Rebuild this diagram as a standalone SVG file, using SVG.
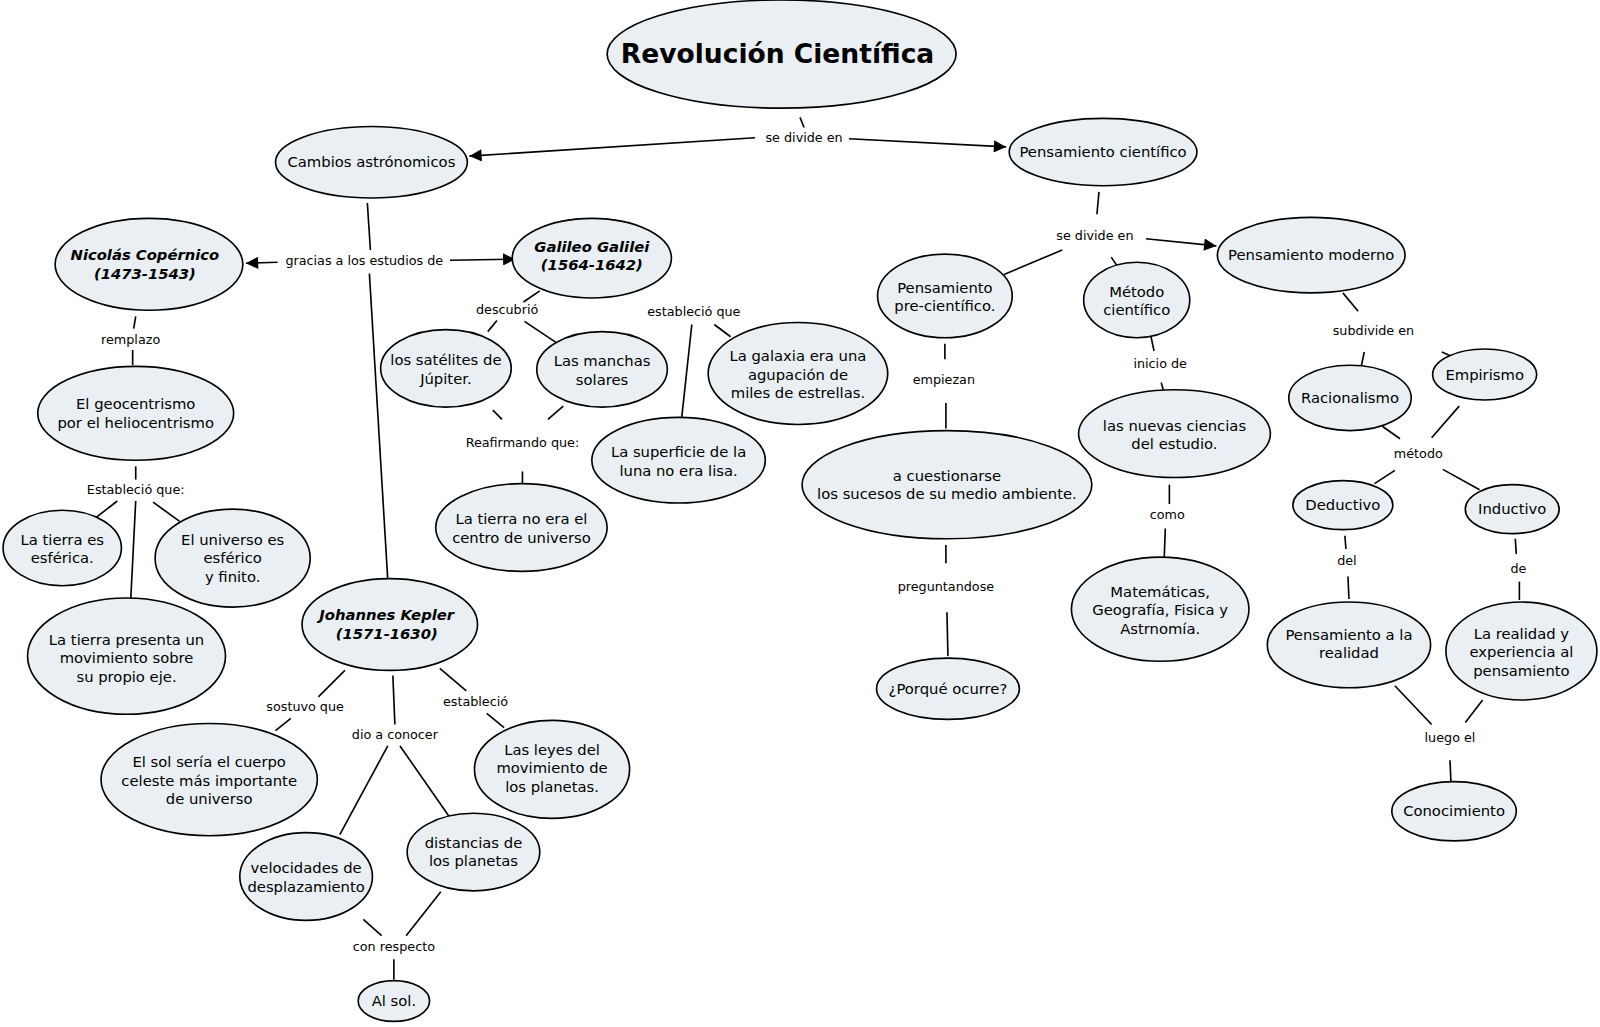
<svg xmlns="http://www.w3.org/2000/svg" width="1600" height="1027" viewBox="0 0 1600 1027">
<style>
.n ellipse{fill:#e9eff2;stroke:#000;stroke-width:1.6}
.n text{font-family:"DejaVu Sans",Verdana,sans-serif;font-size:14.5px;text-anchor:middle;fill:#000}
.n text.b{font-weight:bold;font-style:italic}
.l{font-family:"DejaVu Sans",Verdana,sans-serif;font-size:12.5px;text-anchor:middle;fill:#000}
#c line{stroke:#000;stroke-width:1.6}
</style>
<defs><marker id="a" viewBox="0 0 10 10" refX="10" refY="5" markerWidth="10" markerHeight="9" markerUnits="userSpaceOnUse" orient="auto"><path d="M0,0L10,5L0,10z"/></marker>
<marker id="ah" viewBox="0 0 10 10" refX="10" refY="5" markerWidth="16" markerHeight="12" markerUnits="userSpaceOnUse" orient="auto"><path d="M0,0L10,5L0,10z"/></marker></defs>
<rect width="1600" height="1027" fill="#fff"/>
<g transform="scale(1.0204)">
<g id="c">
<line x1="784" y1="115" x2="788" y2="125"/>
<line x1="740" y1="135" x2="460" y2="153" marker-end="url(#ah)"/>
<line x1="832" y1="136" x2="986" y2="144" marker-end="url(#ah)"/>
<line x1="272" y1="257" x2="241" y2="258" marker-end="url(#ah)"/>
<line x1="441" y1="255" x2="505" y2="254" marker-end="url(#ah)"/>
<line x1="360" y1="199" x2="363" y2="245"/>
<line x1="362" y1="268" x2="380" y2="568"/>
<line x1="133" y1="310" x2="131" y2="322"/>
<line x1="130" y1="343" x2="130" y2="358"/>
<line x1="133" y1="457" x2="133" y2="470"/>
<line x1="133" y1="491" x2="128" y2="590"/>
<line x1="115" y1="491" x2="93" y2="508"/>
<line x1="150" y1="492" x2="176" y2="511"/>
<line x1="529" y1="285" x2="513" y2="296"/>
<line x1="487" y1="314" x2="478" y2="325"/>
<line x1="514" y1="315" x2="547" y2="337"/>
<line x1="700" y1="318" x2="716" y2="330"/>
<line x1="678" y1="318" x2="668" y2="410"/>
<line x1="483" y1="402" x2="492" y2="411"/>
<line x1="552" y1="398" x2="537" y2="411"/>
<line x1="512" y1="462" x2="512" y2="474"/>
<line x1="338" y1="657" x2="312" y2="683"/>
<line x1="285" y1="704" x2="270" y2="716"/>
<line x1="385" y1="662" x2="387" y2="710"/>
<line x1="380" y1="731" x2="333" y2="818"/>
<line x1="392" y1="731" x2="440" y2="800"/>
<line x1="431" y1="655" x2="457" y2="677"/>
<line x1="477" y1="699" x2="494" y2="713"/>
<line x1="356" y1="901" x2="374" y2="917"/>
<line x1="432" y1="874" x2="398" y2="917"/>
<line x1="386" y1="940" x2="386" y2="960"/>
<line x1="1077" y1="188" x2="1075" y2="210"/>
<line x1="1041" y1="245" x2="984" y2="269"/>
<line x1="1089" y1="252" x2="1097" y2="264"/>
<line x1="1123" y1="234" x2="1192" y2="241" marker-end="url(#ah)"/>
<line x1="926" y1="337" x2="926" y2="352"/>
<line x1="927" y1="395" x2="927" y2="420"/>
<line x1="1128" y1="330" x2="1131" y2="344"/>
<line x1="1138" y1="375" x2="1140" y2="382"/>
<line x1="1146" y1="475" x2="1146" y2="494"/>
<line x1="1142" y1="518" x2="1141" y2="546"/>
<line x1="927" y1="534" x2="927" y2="552"/>
<line x1="928" y1="600" x2="929" y2="643"/>
<line x1="1316" y1="287" x2="1331" y2="305"/>
<line x1="1337" y1="345" x2="1333" y2="364"/>
<line x1="1413" y1="345" x2="1440" y2="357"/>
<line x1="1355" y1="418" x2="1372" y2="430"/>
<line x1="1430" y1="398" x2="1403" y2="429"/>
<line x1="1367" y1="461" x2="1347" y2="474"/>
<line x1="1414" y1="460" x2="1450" y2="480"/>
<line x1="1318" y1="525" x2="1319" y2="538"/>
<line x1="1321" y1="565" x2="1322" y2="587"/>
<line x1="1485" y1="528" x2="1486" y2="543"/>
<line x1="1489" y1="570" x2="1489" y2="588"/>
<line x1="1367" y1="672" x2="1403" y2="710"/>
<line x1="1453" y1="686" x2="1436" y2="708"/>
<line x1="1421" y1="745" x2="1422" y2="768"/>
<text class="l" x="788" y="139">se divide en</text>
<text class="l" x="357" y="260">gracias a los estudios de</text>
<text class="l" x="128" y="337">remplazo</text>
<text class="l" x="133" y="484">Estableció que:</text>
<text class="l" x="497" y="308">descubrió</text>
<text class="l" x="680" y="310">estableció que</text>
<text class="l" x="512" y="438">Reafirmando que:</text>
<text class="l" x="299" y="697">sostuvo que</text>
<text class="l" x="387" y="724">dio a conocer</text>
<text class="l" x="466" y="692">estableció</text>
<text class="l" x="386" y="932">con respecto</text>
<text class="l" x="1073" y="235">se divide en</text>
<text class="l" x="925" y="376">empiezan</text>
<text class="l" x="1137" y="361">inicio de</text>
<text class="l" x="1144" y="509">como</text>
<text class="l" x="927" y="579">preguntandose</text>
<text class="l" x="1346" y="328">subdivide en</text>
<text class="l" x="1390" y="449">método</text>
<text class="l" x="1320" y="554">del</text>
<text class="l" x="1488" y="562">de</text>
<text class="l" x="1421" y="727">luego el</text>
</g>
<g id="title" class="n"><ellipse cx="766" cy="53" rx="171" ry="53"/><text x="762" y="62" style="font-weight:bold;font-size:26px">Revolución Científica</text></g>
<g id="cambios" class="n"><ellipse cx="364" cy="159" rx="94" ry="35"/><text x="364" y="164">Cambios astrónomicos</text></g>
<g id="pcient" class="n"><ellipse cx="1081" cy="149" rx="92" ry="33"/><text x="1081" y="154">Pensamiento científico</text></g>
<g id="copernico" class="n"><ellipse cx="146" cy="259" rx="92" ry="45"/><text class="b" x="142" y="255">Nicolás Copérnico</text><text class="b" x="142" y="273">(1473-1543)</text></g>
<g id="galileo" class="n"><ellipse cx="580" cy="253" rx="78" ry="39"/><text class="b" x="580" y="247">Galileo Galilei</text><text class="b" x="580" y="265">(1564-1642)</text></g>
<g id="geo" class="n"><ellipse cx="133" cy="405" rx="96" ry="46"/><text x="133" y="401">El geocentrismo</text><text x="133" y="419">por el heliocentrismo</text></g>
<g id="esferica" class="n"><ellipse cx="61" cy="537" rx="58" ry="37"/><text x="61" y="534">La tierra es</text><text x="61" y="552">esférica.</text></g>
<g id="universo" class="n"><ellipse cx="228" cy="547" rx="76" ry="48"/><text x="228" y="534">El universo es</text><text x="228" y="552">esférico</text><text x="228" y="570">y finito.</text></g>
<g id="movimiento" class="n"><ellipse cx="124" cy="643" rx="97" ry="57"/><text x="124" y="632">La tierra presenta un</text><text x="124" y="650">movimiento sobre</text><text x="124" y="668">su propio eje.</text></g>
<g id="satelites" class="n"><ellipse cx="437" cy="361" rx="64" ry="38"/><text x="437" y="358">los satélites de</text><text x="437" y="376">Júpiter.</text></g>
<g id="manchas" class="n"><ellipse cx="590" cy="362" rx="64" ry="37"/><text x="590" y="359">Las manchas</text><text x="590" y="377">solares</text></g>
<g id="galaxia" class="n"><ellipse cx="782" cy="366" rx="88" ry="50"/><text x="782" y="354">La galaxia era una</text><text x="782" y="372">agupación de</text><text x="782" y="390">miles de estrellas.</text></g>
<g id="superficie" class="n"><ellipse cx="665" cy="451" rx="85" ry="42"/><text x="665" y="448">La superficie de la</text><text x="665" y="466">luna no era lisa.</text></g>
<g id="centro" class="n"><ellipse cx="511" cy="517" rx="84" ry="43"/><text x="511" y="514">La tierra no era el</text><text x="511" y="532">centro de universo</text></g>
<g id="kepler" class="n"><ellipse cx="382" cy="612" rx="86" ry="45"/><text class="b" x="379" y="608">Johannes Kepler</text><text class="b" x="379" y="626">(1571-1630)</text></g>
<g id="sol" class="n"><ellipse cx="205" cy="764" rx="106" ry="55"/><text x="205" y="752">El sol sería el cuerpo</text><text x="205" y="770">celeste más importante</text><text x="205" y="788">de universo</text></g>
<g id="leyes" class="n"><ellipse cx="541" cy="754" rx="76" ry="48"/><text x="541" y="740">Las leyes del</text><text x="541" y="758">movimiento de</text><text x="541" y="776">los planetas.</text></g>
<g id="distancias" class="n"><ellipse cx="464" cy="835" rx="65" ry="38"/><text x="464" y="831">distancias de</text><text x="464" y="849">los planetas</text></g>
<g id="velocidades" class="n"><ellipse cx="300" cy="859" rx="65" ry="43"/><text x="300" y="856">velocidades de</text><text x="300" y="874">desplazamiento</text></g>
<g id="alsol" class="n"><ellipse cx="386" cy="981" rx="35" ry="20"/><text x="386" y="986">Al sol.</text></g>
<g id="precient" class="n"><ellipse cx="926" cy="290" rx="66" ry="41"/><text x="926" y="287">Pensamiento</text><text x="926" y="305">pre-científico.</text></g>
<g id="metodo" class="n"><ellipse cx="1114" cy="294" rx="52" ry="37"/><text x="1114" y="291">Método</text><text x="1114" y="309">científico</text></g>
<g id="moderno" class="n"><ellipse cx="1285" cy="250" rx="92" ry="37"/><text x="1285" y="255">Pensamiento moderno</text></g>
<g id="cuestionarse" class="n"><ellipse cx="928" cy="475" rx="142" ry="53"/><text x="928" y="471">a cuestionarse</text><text x="928" y="489">los sucesos de su medio ambiente.</text></g>
<g id="nuevas" class="n"><ellipse cx="1151" cy="425" rx="94" ry="43"/><text x="1151" y="422">las nuevas ciencias</text><text x="1151" y="440">del estudio.</text></g>
<g id="matematicas" class="n"><ellipse cx="1137" cy="597" rx="87" ry="51"/><text x="1137" y="585">Matemáticas,</text><text x="1137" y="603">Geografía, Fisica y</text><text x="1137" y="621">Astrnomía.</text></g>
<g id="porque" class="n"><ellipse cx="929" cy="675" rx="70" ry="30"/><text x="929" y="680">¿Porqué ocurre?</text></g>
<g id="racionalismo" class="n"><ellipse cx="1323" cy="390" rx="60" ry="32"/><text x="1323" y="395">Racionalismo</text></g>
<g id="empirismo" class="n"><ellipse cx="1455" cy="367" rx="51" ry="25"/><text x="1455" y="372">Empirismo</text></g>
<g id="deductivo" class="n"><ellipse cx="1316" cy="495" rx="49" ry="24"/><text x="1316" y="500">Deductivo</text></g>
<g id="inductivo" class="n"><ellipse cx="1482" cy="499" rx="46" ry="24"/><text x="1482" y="504">Inductivo</text></g>
<g id="pensreal" class="n"><ellipse cx="1322" cy="632" rx="80" ry="42"/><text x="1322" y="627">Pensamiento a la</text><text x="1322" y="645">realidad</text></g>
<g id="realidad" class="n"><ellipse cx="1491" cy="638" rx="74" ry="48"/><text x="1491" y="626">La realidad y</text><text x="1491" y="644">experiencia al</text><text x="1491" y="662">pensamiento</text></g>
<g id="conocimiento" class="n"><ellipse cx="1425" cy="795" rx="61" ry="29"/><text x="1425" y="800">Conocimiento</text></g>
</g>
</svg>
